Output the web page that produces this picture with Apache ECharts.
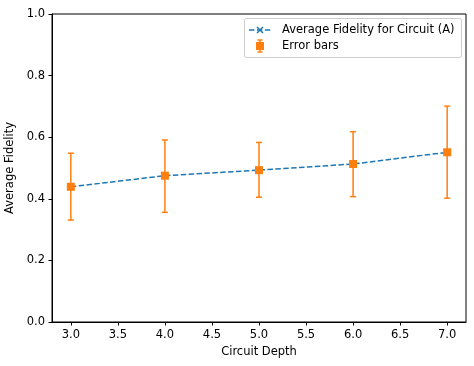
<!DOCTYPE html>
<html><head><meta charset="utf-8">
<script src="https://cdn.jsdelivr.net/npm/echarts@6/dist/echarts.min.js"></script>
<style>html,body{margin:0;padding:0;background:#fff}#c{width:474px;height:366px}</style>
</head><body><div id="c"></div>
<script>
const depths = [3, 4, 5, 6, 7];
const meanFidelity = [0.439, 0.475, 0.493, 0.513, 0.551];
const errLow = [0.331, 0.356, 0.405, 0.407, 0.402];
const errHigh = [0.548, 0.591, 0.583, 0.618, 0.701];
const xTicks = [3.0, 3.5, 4.0, 4.5, 5.0, 5.5, 6.0, 6.5, 7.0];
const lineName = 'Average Fidelity for Circuit (A)';
const errName = 'Error bars';

const BLUE = '#1f77b4', ORANGE = '#ff7f0e';
const FONT = 'DejaVu Sans';
const FS = 11.5;
const chart = echarts.init(document.getElementById('c'));
const lineData = depths.map((d, i) => [d, meanFidelity[i]]);
const errData = depths.map((d, i) => [d, meanFidelity[i], errLow[i], errHigh[i]]);

chart.setOption({
  animation: false,
  grid: {left: 52, right: 8, top: 14, bottom: 44, show: true, borderColor: '#000', borderWidth: 1, containLabel: false, outerBoundsMode: 'none'},
  xAxis: {
    type: 'value', min: 2.8, max: 7.2,
    name: 'Circuit Depth', nameLocation: 'middle', nameGap: 23,
    nameTextStyle: {fontFamily: FONT, fontSize: FS, color: '#000'},
    axisLine: {show: true, lineStyle: {color: '#000', width: 1}},
    axisTick: {show: true, inside: false, length: 3.5, customValues: xTicks, lineStyle: {color: '#000'}},
    axisLabel: {customValues: xTicks, formatter: v => v.toFixed(1), margin: 7, fontFamily: FONT, fontSize: FS, color: '#000'},
    splitLine: {show: false}
  },
  yAxis: {
    type: 'value', min: 0, max: 1, interval: 0.2,
    name: 'Average Fidelity', nameLocation: 'middle', nameGap: 30, nameRotate: 90,
    nameTextStyle: {fontFamily: FONT, fontSize: FS, color: '#000'},
    axisLine: {show: true, lineStyle: {color: '#000', width: 1}},
    axisTick: {show: true, inside: false, length: 3.5, lineStyle: {color: '#000'}},
    axisLabel: {formatter: v => v.toFixed(1), margin: 7, fontFamily: FONT, fontSize: FS, color: '#000'},
    splitLine: {show: false}
  },
  series: [
    {
      type: 'line', name: lineName, data: lineData, z: 2,
      lineStyle: {color: BLUE, width: 1.5, type: [5.5, 2.4]},
      symbol: 'path://M0,0L10,10M10,0L0,10', symbolSize: 6,
      itemStyle: {color: 'none', borderColor: BLUE, borderWidth: 1.5},
      silent: true
    },
    {
      type: 'custom', name: errName, data: errData, z: 3,
      renderItem: function (params, api) {
        const x = api.value(0);
        const c = api.coord([x, api.value(1)]);
        const lo = api.coord([x, api.value(2)]);
        const hi = api.coord([x, api.value(3)]);
        const cap = 3, s = 4;
        const st = {stroke: ORANGE, lineWidth: 1.5};
        return {type: 'group', children: [
          {type: 'line', shape: {x1: c[0], y1: lo[1], x2: c[0], y2: hi[1]}, style: st},
          {type: 'line', shape: {x1: c[0] - cap, y1: lo[1], x2: c[0] + cap, y2: lo[1]}, style: st},
          {type: 'line', shape: {x1: c[0] - cap, y1: hi[1], x2: c[0] + cap, y2: hi[1]}, style: st},
          {type: 'rect', shape: {x: c[0] - s, y: c[1] - s, width: 2 * s, height: 2 * s}, style: {fill: ORANGE}}
        ]};
      }
    }
  ],
  graphic: [
    {type: 'rect', left: 244, top: 18, shape: {width: 217, height: 39, r: 2}, style: {fill: 'rgba(255,255,255,0.8)', stroke: '#cccccc', lineWidth: 1}, z: 10},
    {type: 'line', shape: {x1: 249, y1: 30, x2: 271, y2: 30}, style: {stroke: BLUE, lineWidth: 1.5, lineDash: [5.5, 2.4]}, z: 11},
    {type: 'line', shape: {x1: 257, y1: 27, x2: 263, y2: 33}, style: {stroke: BLUE, lineWidth: 1.5}, z: 11},
    {type: 'line', shape: {x1: 263, y1: 27, x2: 257, y2: 33}, style: {stroke: BLUE, lineWidth: 1.5}, z: 11},
    {type: 'text', x: 282, y: 30, style: {text: lineName, fontFamily: FONT, fontSize: FS, fill: '#000', verticalAlign: 'middle', align: 'left'}, z: 11},
    {type: 'line', shape: {x1: 260, y1: 40, x2: 260, y2: 52}, style: {stroke: ORANGE, lineWidth: 1.5}, z: 11},
    {type: 'line', shape: {x1: 257.5, y1: 40, x2: 262.5, y2: 40}, style: {stroke: ORANGE, lineWidth: 1.5}, z: 11},
    {type: 'line', shape: {x1: 257.5, y1: 52, x2: 262.5, y2: 52}, style: {stroke: ORANGE, lineWidth: 1.5}, z: 11},
    {type: 'rect', shape: {x: 256, y: 42, width: 8, height: 8}, style: {fill: ORANGE}, z: 11},
    {type: 'text', x: 282, y: 46, style: {text: errName, fontFamily: FONT, fontSize: FS, fill: '#000', verticalAlign: 'middle', align: 'left'}, z: 11}
  ]
});
</script></body></html>
